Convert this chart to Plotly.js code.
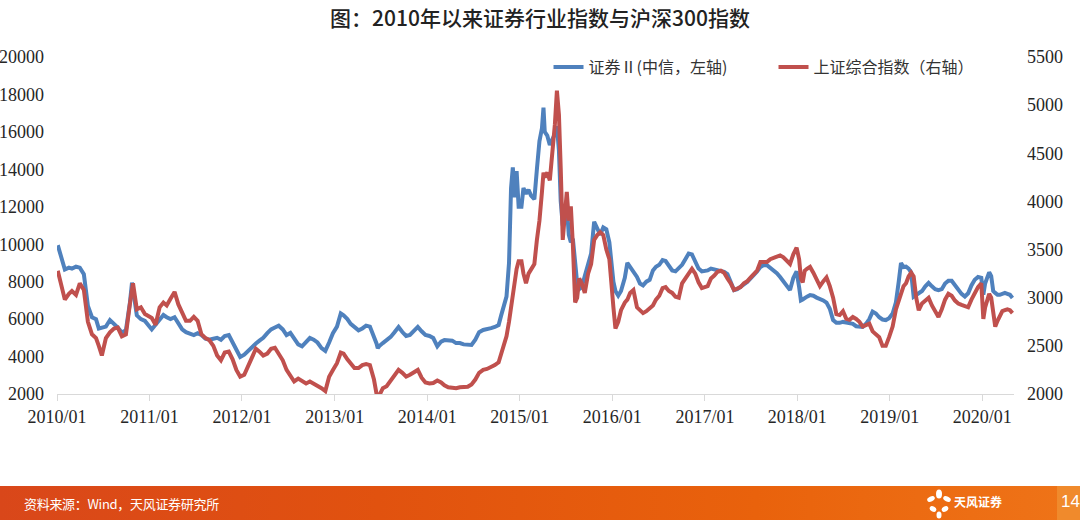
<!DOCTYPE html>
<html>
<head>
<meta charset="utf-8">
<script src="https://cdn.plot.ly/plotly-3.0.1.min.js"></script>
<style>
  html, body { margin:0; padding:0; background:#ffffff; }
  #chart { position:absolute; left:0; top:0; width:1080px; height:520px; }
  #footer { position:absolute; left:0; top:486px; width:1080px; height:34px; z-index:5;
    background: linear-gradient(90deg, #D9471A 0%, #E1520F 35%, #E9620C 70%, #EF7418 100%);
    font-family: "Noto Sans CJK SC", sans-serif; color:#ffffff; }
  #src { position:absolute; left:24px; top:8px; font-size:13px; letter-spacing:-0.3px; }
  #logo { position:absolute; left:926px; top:3px; }
  #brand { position:absolute; left:954px; top:7px; font-size:12px; font-weight:bold; }
  #pagebox { position:absolute; left:1057px; top:0; width:23px; height:34px; background:#F08A2C; }
  #page { position:absolute; left:1061px; top:6px; font-size:17px; font-family:"Liberation Sans", sans-serif; }
</style>
</head>
<body>
<div id="chart"></div>
<div id="footer">
  <span id="src">资料来源：Wind，天风证券研究所</span>
  <svg id="logo" width="26" height="30" viewBox="0 0 26 30">
    <ellipse cx="13" cy="5" rx="3" ry="4.5" fill="#fff"/>
    <ellipse cx="5" cy="10" rx="4" ry="2.5" fill="#fff" transform="rotate(-25 5 10)"/>
    <ellipse cx="21" cy="10" rx="4" ry="2.5" fill="#fff" transform="rotate(25 21 10)"/>
    <ellipse cx="7" cy="20" rx="3.5" ry="2.5" fill="#fff" transform="rotate(30 7 20)"/>
    <ellipse cx="19" cy="20" rx="3.5" ry="2.5" fill="#fff" transform="rotate(-30 19 20)"/>
    <ellipse cx="13" cy="26" rx="2.5" ry="3.5" fill="#fff"/>
  </svg>
  <span id="brand">天风证券</span>
  <div id="pagebox"></div>
  <span id="page">14</span>
</div>
<script>
// ---- data ----
const dates = [
 '2010-01-04','2010-01-16','2010-02-01','2010-02-17','2010-03-01','2010-03-17','2010-04-01','2010-04-17','2010-05-03','2010-05-19',
 '2010-06-04','2010-06-15','2010-06-27','2010-07-13','2010-07-29','2010-08-14','2010-08-29','2010-09-14','2010-09-30','2010-10-16',
 '2010-10-24','2010-10-28','2010-11-12','2010-11-28','2010-12-14',
 '2011-01-10','2011-01-25','2011-02-10','2011-02-25','2011-03-10','2011-03-25','2011-04-10','2011-04-25','2011-05-10','2011-05-25',
 '2011-06-10','2011-06-25','2011-07-10','2011-07-25','2011-08-10','2011-08-25','2011-09-10','2011-09-25','2011-10-10','2011-10-25',
 '2011-11-10','2011-11-25','2011-12-10','2011-12-25',
 '2012-01-10','2012-01-25','2012-02-10','2012-02-25','2012-03-10','2012-03-25','2012-04-10','2012-04-25','2012-05-10','2012-05-25',
 '2012-06-10','2012-06-25','2012-07-10','2012-07-25','2012-08-10','2012-08-25','2012-09-10','2012-09-25','2012-10-10','2012-10-25',
 '2012-11-10','2012-11-25','2012-12-10','2012-12-25',
 '2013-01-10','2013-01-25','2013-02-05','2013-02-20','2013-03-05','2013-03-20','2013-04-05','2013-04-20','2013-05-05','2013-05-20',
 '2013-06-05','2013-06-15','2013-06-20','2013-06-25','2013-07-10','2013-07-25','2013-08-10','2013-08-25','2013-09-10','2013-09-25',
 '2013-10-10','2013-10-25','2013-11-10','2013-11-25','2013-12-10','2013-12-25',
 '2014-01-10','2014-01-25','2014-02-10','2014-02-25','2014-03-10','2014-03-25','2014-04-10','2014-04-25','2014-05-10','2014-05-25',
 '2014-06-10','2014-06-25','2014-07-10','2014-07-25','2014-08-10','2014-08-25','2014-09-10','2014-09-25','2014-10-10','2014-10-20',
 '2014-10-30','2014-11-10','2014-11-20','2014-11-28','2014-12-05','2014-12-12','2014-12-20','2014-12-28',
 '2015-01-08','2015-01-16','2015-01-26','2015-02-05','2015-02-15','2015-02-28','2015-03-10','2015-03-20','2015-03-30','2015-04-05',
 '2015-04-10','2015-04-20','2015-04-30','2015-05-10','2015-05-20','2015-05-28','2015-06-05','2015-06-12','2015-06-20','2015-06-28',
 '2015-07-06','2015-07-14','2015-07-22','2015-07-30','2015-08-08','2015-08-16','2015-08-24','2015-09-03','2015-09-15','2015-09-28',
 '2015-10-10','2015-10-22','2015-11-03','2015-11-15','2015-11-27','2015-12-09','2015-12-21',
 '2016-01-06','2016-01-14','2016-01-25','2016-02-05','2016-02-20','2016-03-01','2016-03-12','2016-03-25','2016-04-08','2016-04-20',
 '2016-05-02','2016-05-15','2016-05-28','2016-06-10','2016-06-22','2016-07-05','2016-07-18','2016-07-30','2016-08-12','2016-08-25',
 '2016-09-07','2016-09-20','2016-10-03','2016-10-16','2016-10-29','2016-11-11','2016-11-24','2016-12-07','2016-12-20',
 '2017-01-12','2017-01-25','2017-02-07','2017-02-20','2017-03-05','2017-03-18','2017-03-31','2017-04-13','2017-04-26','2017-05-09',
 '2017-05-22','2017-06-04','2017-06-17','2017-06-30','2017-07-13','2017-07-26','2017-08-08','2017-08-21','2017-09-03','2017-09-16',
 '2017-09-29','2017-10-12','2017-10-25','2017-11-07','2017-11-20','2017-12-03','2017-12-16','2017-12-29',
 '2018-01-08','2018-01-15','2018-01-22','2018-01-30','2018-02-08','2018-02-20','2018-03-05','2018-03-18','2018-03-31','2018-04-13',
 '2018-04-26','2018-05-09','2018-05-22','2018-06-04','2018-06-17','2018-06-30','2018-07-13','2018-07-26','2018-08-08','2018-08-21',
 '2018-09-03','2018-09-16','2018-09-29','2018-10-12','2018-10-25','2018-11-07','2018-11-20','2018-12-03','2018-12-16','2018-12-29',
 '2019-01-12','2019-01-25','2019-02-05','2019-02-14','2019-02-24','2019-03-06','2019-03-16','2019-03-26','2019-04-05','2019-04-15',
 '2019-04-25','2019-05-08','2019-05-21','2019-06-03','2019-06-16','2019-06-29','2019-07-12','2019-07-25','2019-08-07','2019-08-20',
 '2019-09-02','2019-09-15','2019-09-28','2019-10-11','2019-10-24','2019-11-06','2019-11-19','2019-12-02','2019-12-15','2019-12-28',
 '2020-01-05','2020-01-12','2020-01-20','2020-01-28','2020-02-05','2020-02-13','2020-02-21','2020-03-01','2020-03-10','2020-03-20',
 '2020-03-30','2020-04-09','2020-04-19','2020-04-29'
];

// 证券Ⅱ(中信) — left axis
const securitiesIdx = [
 9950,9400,8650,8750,8700,8800,8750,8400,6700,6100,
 6000,5500,5550,5600,5950,5750,5550,5280,5400,6900,
 7950,7600,6200,6000,5900,
 5450,5700,6000,6220,6100,6000,6100,5800,5450,5300,
 5200,5150,5250,5150,4950,4900,4950,5000,4900,5100,
 5150,4750,4300,3980,
 4100,4300,4550,4700,4850,5000,5250,5450,5550,5650,
 5450,5150,5260,4950,4650,4550,4780,4990,4900,4750,
 4450,4300,4750,5250,
 5600,6300,6200,6000,5750,5600,5400,5500,5650,5600,
 5100,4700,4450,4550,4720,4880,5050,5300,5580,5310,
 5100,5150,5350,5580,5350,5150,
 5100,4990,4550,4800,4880,4850,4850,4720,4720,4650,
 4620,4620,4900,5300,5420,5450,5520,5580,5680,6200,
 6700,7200,9000,13000,14100,12500,13900,12000,
 12000,13000,12700,12900,12600,12400,14000,15500,16200,17300,
 16000,15800,15300,15600,15900,16300,15000,12300,11000,11500,
 12000,10500,10100,10300,9000,7900,7600,7700,8300,8900,
 9500,11200,10800,10500,10900,10800,10100,
 8000,7500,7250,7500,8200,9000,8800,8500,8250,7900,
 7800,8000,8100,8600,8800,8900,9150,9100,8800,8600,
 8550,8700,8900,9200,9500,9450,9100,8700,8550,
 8600,8700,8650,8620,8550,8520,8400,8000,7550,7600,
 7700,7850,7980,8150,8350,8550,8780,8890,8880,8750,
 8620,8450,8250,8000,7750,7550,8200,8550,
 7700,7000,7050,7150,7200,7280,7250,7150,7100,7000,
 6880,6550,5950,5800,5800,5850,5820,5790,5750,5620,
 5580,5580,5750,6000,6400,6300,6100,5980,5950,6050,
 6300,6900,8000,9000,8780,8800,8700,8500,7200,7300,
 7400,7500,7750,7930,7750,7600,7550,7600,7900,8050,
 8050,7800,7550,7350,7200,7380,7800,8100,8250,8200,
 7300,7900,8200,8500,8300,7500,7400,7300,7300,7350,
 7400,7350,7300,7130
];

// 上证综合指数 — right axis
const shanghaiComposite = [
 3280,3150,2980,3040,3070,3030,3150,3080,2750,2620,
 2580,2500,2400,2580,2640,2680,2690,2600,2620,2940,
 3100,3150,2880,2900,2830,
 2790,2720,2900,2950,2920,2990,3060,2930,2850,2760,
 2760,2800,2760,2620,2580,2560,2500,2400,2350,2430,
 2440,2360,2250,2180,
 2200,2290,2380,2470,2440,2400,2420,2470,2480,2420,
 2350,2250,2180,2130,2160,2140,2110,2130,2110,2080,
 2060,2030,2180,2250,
 2320,2430,2420,2360,2320,2270,2270,2300,2310,2300,
 2150,2000,1930,1980,2060,2080,2140,2200,2250,2220,
 2180,2200,2220,2250,2170,2120,
 2110,2114,2140,2120,2090,2070,2065,2060,2070,2075,
 2075,2100,2150,2220,2250,2260,2280,2300,2330,2420,
 2490,2600,2750,2900,3050,3150,3300,3380,
 3380,3250,3150,3250,3290,3350,3600,3800,4100,4300,
 4250,4300,4220,4500,4800,5150,4900,4350,3600,3850,
 4100,3800,3950,3550,2950,3000,3200,3150,3050,3250,
 3350,3600,3650,3680,3650,3500,3400,
 2900,2680,2750,2870,2950,2980,3050,3080,2900,2870,
 2840,2860,2890,2920,2980,3020,3100,3110,3070,3050,
 3010,3000,3150,3210,3250,3300,3250,3160,3100,
 3120,3200,3230,3270,3280,3260,3200,3150,3080,3090,
 3110,3150,3170,3210,3250,3280,3370,3370,3370,3400,
 3410,3430,3440,3420,3380,3350,3450,3520,
 3400,3200,3160,3280,3300,3320,3260,3200,3120,3170,
 3210,3120,3000,2830,2820,2860,2780,2770,2800,2780,
 2750,2700,2720,2730,2650,2620,2590,2500,2500,2590,
 2700,2880,2980,3050,3120,3150,3220,3260,3220,3000,
 2870,2940,2970,3000,2920,2860,2800,2880,2980,3040,
 3020,2970,2940,2925,2910,2900,2980,3050,3110,3150,
 2780,2900,2990,3040,3000,2850,2700,2760,2800,2860,
 2870,2880,2870,2840
];

const tickDates = ['2010-01-01','2011-01-01','2012-01-01','2013-01-01','2014-01-01','2015-01-01',
                   '2016-01-01','2017-01-01','2018-01-01','2019-01-01','2020-01-01'];
const tickLabels = ['2010/01','2011/01','2012/01','2013/01','2014/01','2015/01',
                    '2016/01','2017/01','2018/01','2019/01','2020/01'];
const leftTicks = [2000,4000,6000,8000,10000,12000,14000,16000,18000,20000];
const rightTicks = [2000,2500,3000,3500,4000,4500,5000,5500];
const seriesNames = ['证券Ⅱ(中信，左轴)', '上证综合指数（右轴）'];

const tickFont = {family: 'Liberation Serif', size: 18, color: '#262626'};
const cjkFont = 'Noto Sans CJK SC';

const traces = [
  {x: dates, y: securitiesIdx, name: seriesNames[0], type: 'scatter', mode: 'lines',
   line: {color: '#4F81BD', width: 4}, yaxis: 'y'},
  {x: dates, y: shanghaiComposite, name: seriesNames[1], type: 'scatter', mode: 'lines',
   line: {color: '#C0504D', width: 4}, yaxis: 'y2'}
];

const layout = {
  width: 1080, height: 520,
  margin: {l: 57, r: 66, t: 57, b: 126},
  paper_bgcolor: '#ffffff', plot_bgcolor: '#ffffff',
  title: {text: '图：2010年以来证券行业指数与沪深300指数',
          font: {family: cjkFont, size: 21, color: '#222222', weight: 500},
          x: 0.5, xref: 'container', xanchor: 'center', y: 0.965, yref: 'container', yanchor: 'middle'},
  showlegend: true,
  legend: {orientation: 'h', x: 0.5136, xanchor: 'left', y: 0.970, yanchor: 'middle',
           font: {family: cjkFont, size: 16, color: '#333333'},
           bgcolor: 'rgba(0,0,0,0)', entrywidth: 180, entrywidthmode: 'pixels'},
  xaxis: {type: 'date', range: ['2010-01-01', '2020-05-05'],
          tickmode: 'array', tickvals: tickDates, ticktext: tickLabels,
          showgrid: false, zeroline: false, showline: true, linecolor: '#d9d9d9', linewidth: 1,
          ticks: 'outside', ticklen: 6, tickcolor: '#d9d9d9', tickfont: tickFont},
  yaxis: {range: [2000, 20000], tickmode: 'array', tickvals: leftTicks, tickformat: 'd',
          showgrid: false, zeroline: false, showline: false, ticks: '',
          ticklabelstandoff: 12, tickfont: tickFont},
  yaxis2: {range: [2000, 5500], overlaying: 'y', side: 'right', tickmode: 'array', tickvals: rightTicks,
           tickformat: 'd',
           showgrid: false, zeroline: false, showline: false, ticks: '',
           ticklabelstandoff: 12, tickfont: tickFont}
};

Plotly.newPlot('chart', traces, layout, {displayModeBar: false, staticPlot: true});
</script>
</body>
</html>
